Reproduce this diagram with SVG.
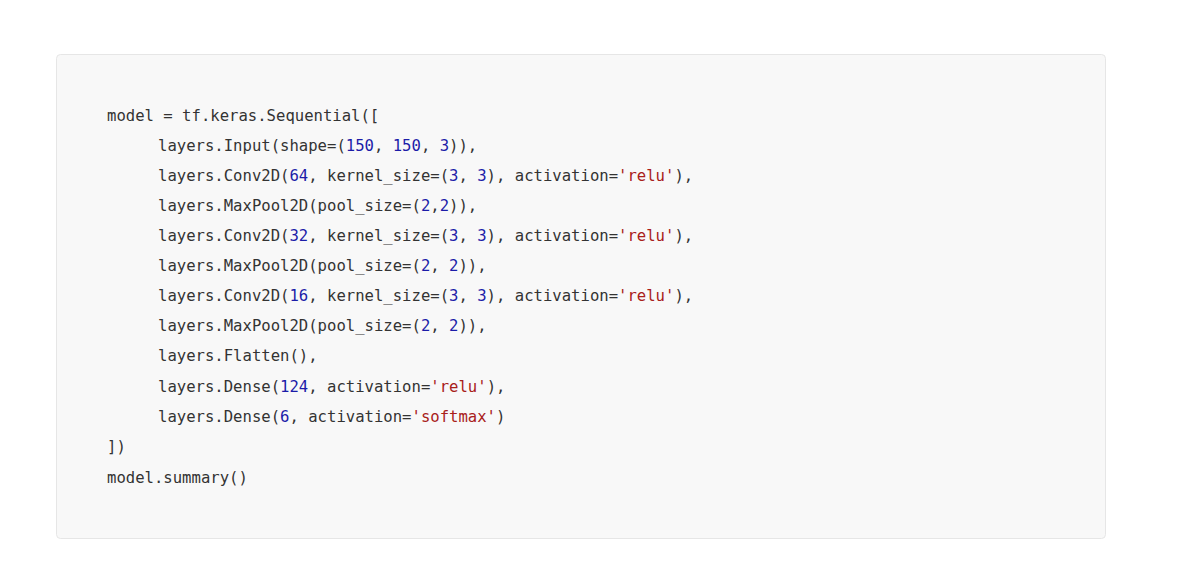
<svg xmlns="http://www.w3.org/2000/svg" width="1200" height="582" viewBox="0 0 1200 582">
<style>
text{font-family:"DejaVu Sans Mono","Liberation Mono",monospace;font-size:15.6px;fill:#333;white-space:pre}
.n{fill:#1c1ca8}.s{fill:#a8201a}
</style>
<rect width="1200" height="582" fill="#fff"/>
<g id="code">
<rect x="56.5" y="54.5" width="1049" height="484" rx="4" fill="#f8f8f8" stroke="#e6e6e6"/>
<text x="107" y="121">model = tf.keras.Sequential([</text>
<text x="158" y="151">layers.Input(shape=(<tspan class="n">150</tspan>, <tspan class="n">150</tspan>, <tspan class="n">3</tspan>)),</text>
<text x="158" y="181">layers.Conv2D(<tspan class="n">64</tspan>, kernel_size=(<tspan class="n">3</tspan>, <tspan class="n">3</tspan>), activation=<tspan class="s">'relu'</tspan>),</text>
<text x="158" y="211">layers.MaxPool2D(pool_size=(<tspan class="n">2</tspan>,<tspan class="n">2</tspan>)),</text>
<text x="158" y="241">layers.Conv2D(<tspan class="n">32</tspan>, kernel_size=(<tspan class="n">3</tspan>, <tspan class="n">3</tspan>), activation=<tspan class="s">'relu'</tspan>),</text>
<text x="158" y="271">layers.MaxPool2D(pool_size=(<tspan class="n">2</tspan>, <tspan class="n">2</tspan>)),</text>
<text x="158" y="301">layers.Conv2D(<tspan class="n">16</tspan>, kernel_size=(<tspan class="n">3</tspan>, <tspan class="n">3</tspan>), activation=<tspan class="s">'relu'</tspan>),</text>
<text x="158" y="331">layers.MaxPool2D(pool_size=(<tspan class="n">2</tspan>, <tspan class="n">2</tspan>)),</text>
<text x="158" y="361">layers.Flatten(),</text>
<text x="158" y="392">layers.Dense(<tspan class="n">124</tspan>, activation=<tspan class="s">'relu'</tspan>),</text>
<text x="158" y="422">layers.Dense(<tspan class="n">6</tspan>, activation=<tspan class="s">'softmax'</tspan>)</text>
<text x="107" y="452">])</text>
<text x="107" y="483">model.summary()</text>
</g>
</svg>
